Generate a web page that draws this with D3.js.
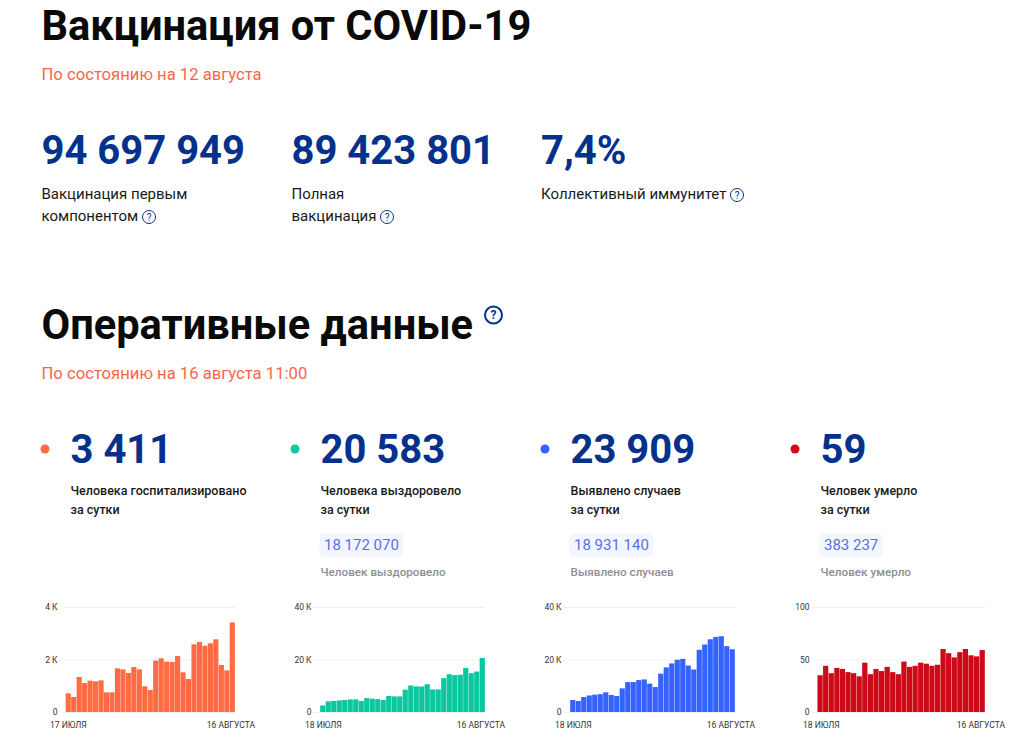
<!DOCTYPE html>
<html><head><meta charset="utf-8">
<script src="https://cdn.jsdelivr.net/npm/d3@7/dist/d3.min.js"></script>
<style>
html,body{margin:0;padding:0;background:#fff;overflow:hidden}
svg{display:block;font-family:Roboto,sans-serif}
.tick line{stroke:#f0f0f0}
.domain{display:none}
</style></head><body>
<svg id="c" width="1029" height="753"></svg>
<script>
const hospitalized=[711,571,1333,1105,1194,1168,1206,749,749,1663,1625,1486,1714,1625,978,838,1956,2044,1917,1905,2133,1511,1257,2578,2667,2527,2616,2768,1790,1587,3411];
const recovered=[2500,4050,4200,4400,4560,4800,4800,4200,5300,5060,4900,4560,6100,5950,5950,8500,10100,9750,9750,10600,8600,8600,12900,14400,14050,14200,16800,14800,15400,20583];
const detected=[4560,4200,5700,6300,6600,6800,7500,6500,6100,9000,11400,11400,12150,12400,10800,9500,14600,17000,18500,19900,20250,17700,16200,23700,25700,27700,28600,28860,25100,23909];
const deaths=[35,44,37,42,41,38,37,34,47,36,41,39,43,38,36,48,43,44,47,46,44,45,60,56,52,57,60,54,53,59];
const startLabels=["17 ИЮЛЯ","18 ИЮЛЯ","18 ИЮЛЯ","18 ИЮЛЯ"];
const endLabel="16 АВГУСТА";
const yTicksK=[0,2000,4000];
const yTicksK10=[0,20000,40000];
const yTicks100=[0,50,100];
const topNumbers=["94 697 949","89 423 801","7,4%"];
const dailyNumbers=["3 411","20 583","23 909","59"];
const dailyCaptions=["Человека госпитализировано","Человека выздоровело","Выявлено случаев","Человек умерло"];
const totals=[null,"18 172 070","18 931 140","383 237"];
const totalCaptions=[null,"Человек выздоровело","Выявлено случаев","Человек умерло"];
const colors=["#ff6b42","#0bc7a0","#3663ff","#cf0a18"];
const navy="#03318c", orange="#f8674a";

const svg=d3.select("#c");
function txt(x,y,s,size,weight,fill,anchor){
  return svg.append("text").attr("x",x).attr("y",y).text(s)
    .attr("font-size",size).attr("font-weight",weight||400).attr("fill",fill||"#111")
    .attr("text-anchor",anchor||"start");
}
function help(cx,cy,r,size,sw){
  svg.append("circle").attr("cx",cx).attr("cy",cy).attr("r",r).attr("fill","none").attr("stroke",navy).attr("stroke-width",sw||1);
  txt(cx,cy+size*0.36,"?",size,sw>1.5?700:400,navy,"middle");
}
txt(41.5,40,"Вакцинация от COVID-19",41.6,700,"#0a0a0a");
txt(41.5,80,"По состоянию на 12 августа",16.65,400,orange);
[41.5,291.5,541].forEach((x,i)=>txt(x,164,topNumbers[i],40,700,navy));
txt(41.5,199,"Вакцинация первым",15,400,"#1a1a1a");
txt(41.5,221,"компонентом",15,400,"#1a1a1a");
help(149,217,6.5,10,1);
txt(291.5,199,"Полная",15,400,"#1a1a1a");
txt(291.5,221,"вакцинация",15,400,"#1a1a1a");
help(387,217,6.5,10,1);
txt(541,199,"Коллективный иммунитет",15,400,"#1a1a1a");
help(737,195,6.5,10,1);

txt(41.5,339,"Оперативные данные",41.6,700,"#0a0a0a");
help(493.5,315,8.5,12,2);
txt(41.5,379,"По состоянию на 16 августа 11:00",16.65,400,orange);

const colX=[70.5,320.5,570.5,820.5];
dailyNumbers.forEach((d,i)=>{
  svg.append("circle").attr("cx",colX[i]-25.5).attr("cy",449).attr("r",4.5).attr("fill",colors[i]);
  txt(colX[i],463,d,40,700,navy);
  txt(colX[i],495,dailyCaptions[i],12.5,500,"#1a1a1a");
  txt(colX[i],514,"за сутки",12.5,500,"#1a1a1a");
  if(totals[i]){
    const t=txt(colX[i]+3.5,550,totals[i],15,400,"#5f6cf0");
    const w=t.node().getComputedTextLength();
    svg.insert("rect","text").attr("x",colX[i]-1).attr("y",533).attr("width",w+9).attr("height",24).attr("rx",5).attr("fill","#f2f6ff");
    txt(colX[i],576,totalCaptions[i],11.7,500,"#8c8f96");
  }
});

const charts=[
 {v:hospitalized,x0:65.5,x1:235,gx0:63,pad:5.5,ymax:4000,ticks:yTicksK,fmt:d=>d?(d/1000)+" К":"0",lx:50,s:startLabels[0]},
 {v:recovered,x0:320,x1:485,gx0:313,pad:1.5,ymax:40000,ticks:yTicksK10,fmt:d=>d?(d/1000)+" К":"0",lx:305,s:startLabels[1]},
 {v:detected,x0:570,x1:735,gx0:563,pad:1.5,ymax:40000,ticks:yTicksK10,fmt:d=>d?(d/1000)+" К":"0",lx:555,s:startLabels[2]},
 {v:deaths,x0:817.3,x1:985,gx0:813,pad:3.5,ymax:100,ticks:yTicks100,fmt:d=>String(d),lx:803,s:startLabels[3]}
];
charts.forEach((c,i)=>{
  const y=d3.scaleLinear().domain([0,c.ymax]).range([712,607]);
  const x=d3.scaleBand().domain(d3.range(c.v.length)).range([c.x0,c.x1]).paddingInner(0.06).paddingOuter(0.03);
  const ax=d3.axisLeft(y).tickValues(c.ticks).tickFormat(c.fmt).tickSize(-(c.x1-c.gx0)).tickPadding(c.pad);
  const g=svg.append("g").attr("transform",`translate(${c.gx0},0)`).call(ax);
  g.selectAll("text").attr("font-size",8.5).attr("fill","#333").attr("font-family","Roboto,sans-serif");
  svg.append("g").selectAll("rect").data(c.v).join("rect")
    .attr("x",(d,j)=>x(j)).attr("width",x.bandwidth())
    .attr("y",d=>y(d)).attr("height",d=>712-y(d)).attr("fill",colors[i]);
  txt(c.lx,727.5,c.s,8.5,400,"#333");
  txt(c.x1+20,727.5,endLabel,8.5,400,"#333","end");
});
</script></body></html>
